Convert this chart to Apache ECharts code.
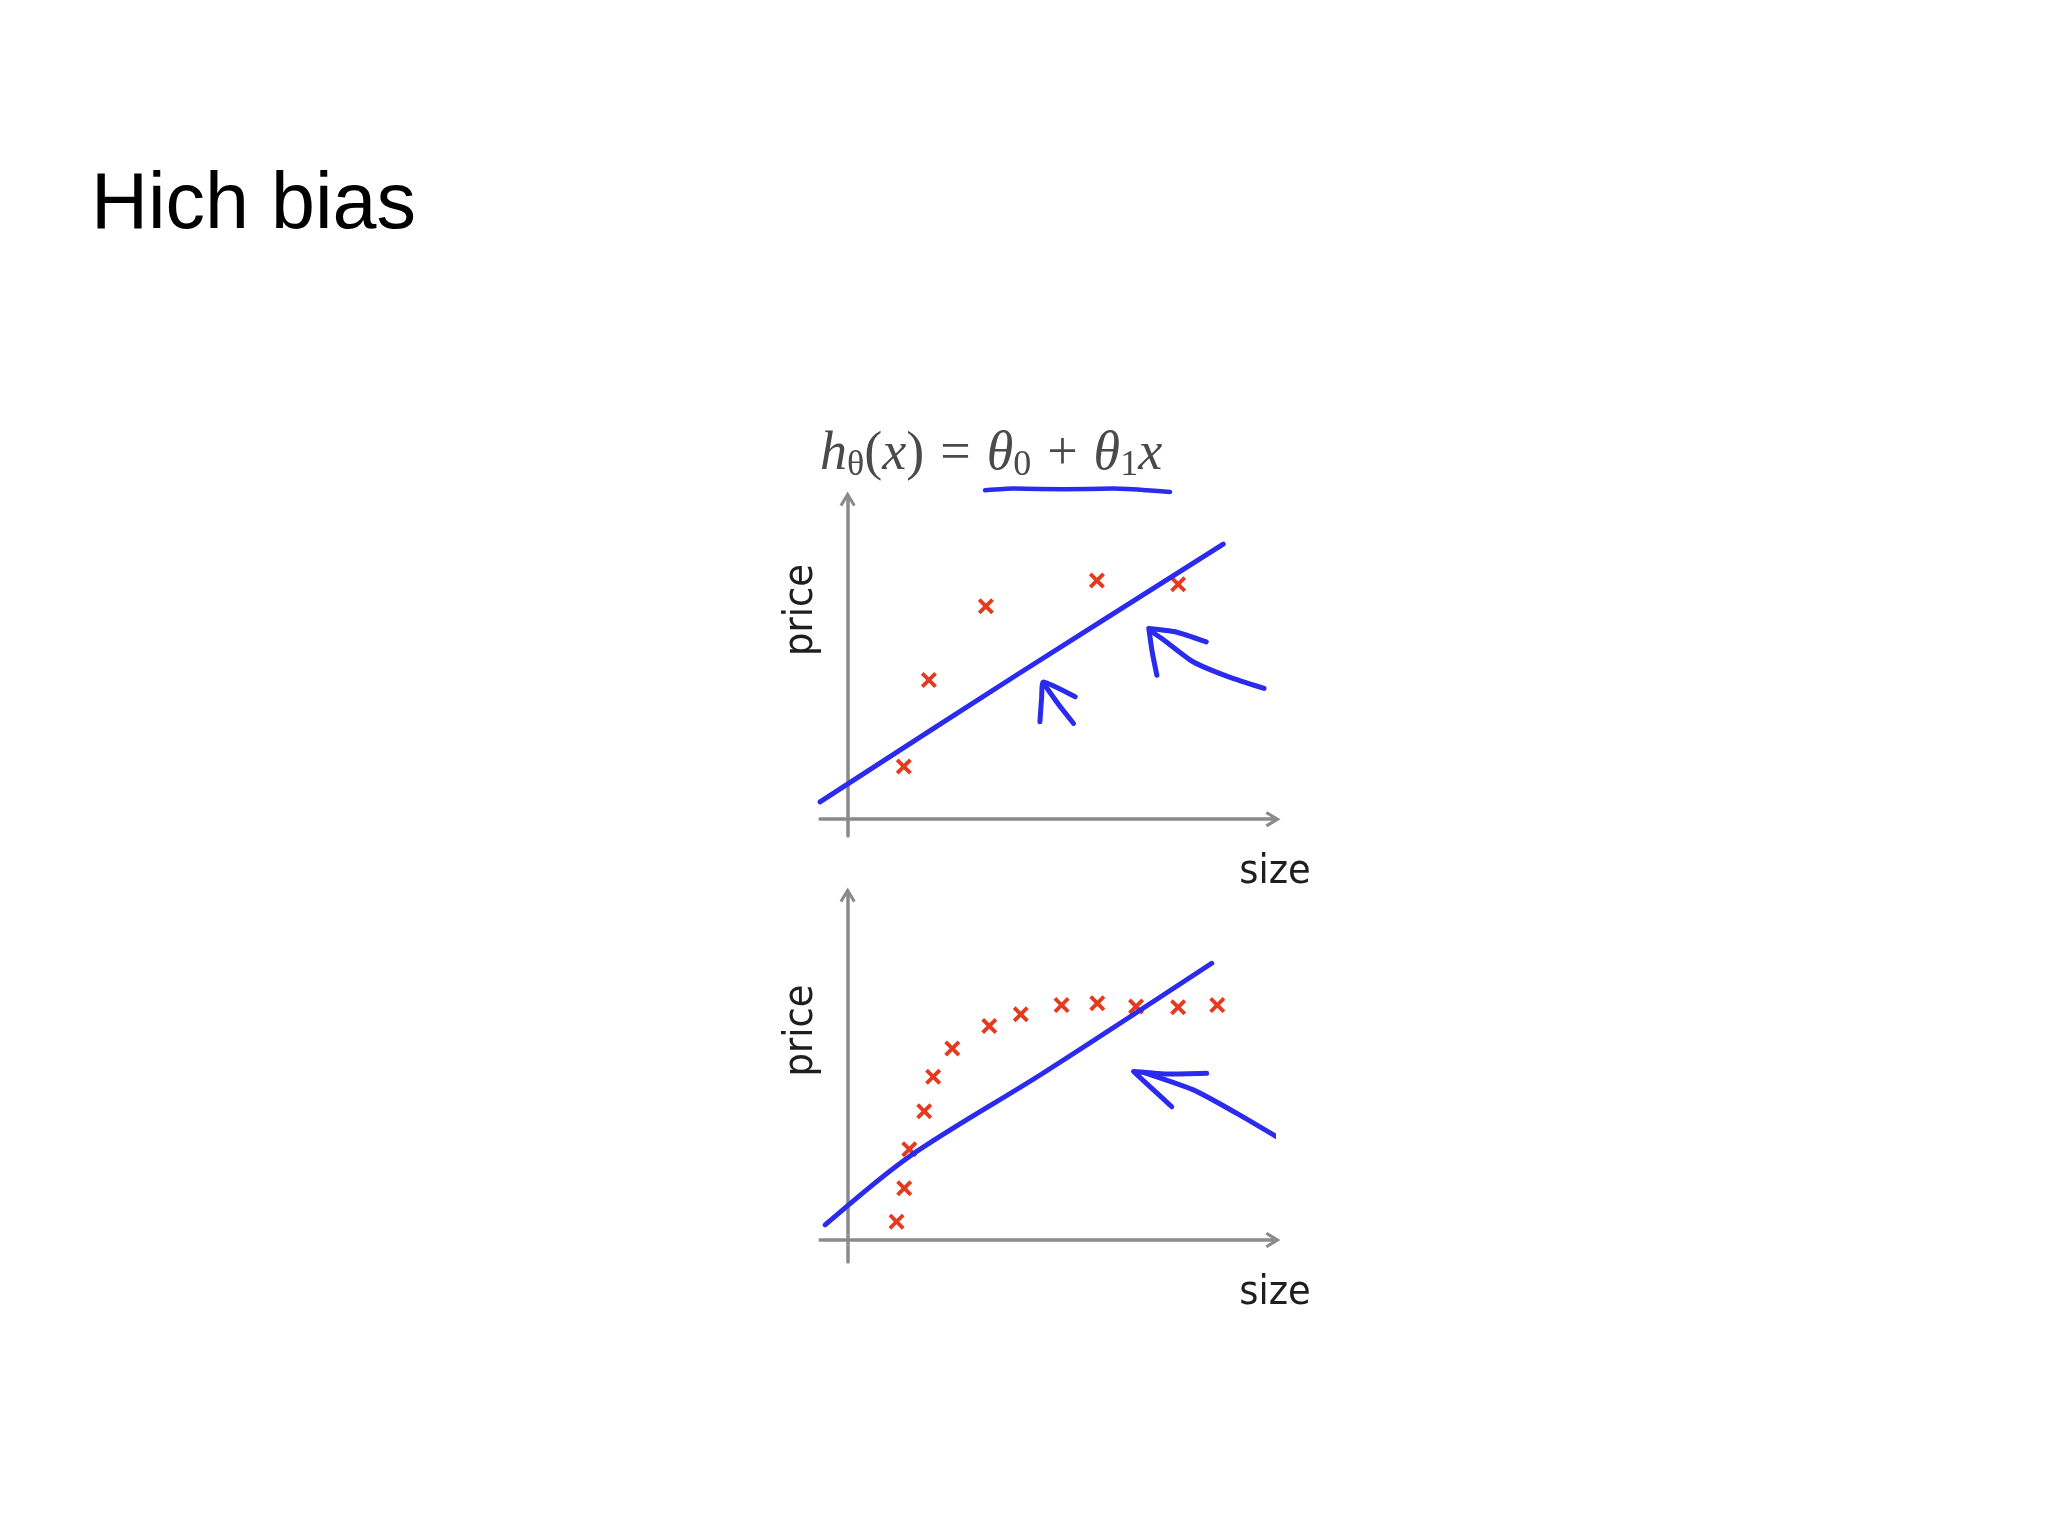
<!DOCTYPE html>
<html>
<head>
<meta charset="utf-8">
<script src="https://cdn.jsdelivr.net/npm/echarts@6/dist/echarts.min.js"></script>
<style>
html,body{margin:0;padding:0;background:#fff;}
#chart{width:2048px;height:1536px;}
</style>
</head>
<body>
<div id="chart"></div>
<script>
// ---------- data ----------
const pageTitle = 'Hich bias';
const xName = 'size';
const yName = 'price';

// top panel: training points and straight-line fit h(x) = θ0 + θ1 x
const topPoints = [[13.2,15.6],[19.1,41.3],[32.5,63.2],[58.6,70.8],[77.7,69.7]];
const topFit = [[-6.49,5.1],[40.0,43.0],[88.3,81.6]];
const topUnderline = [[32.3,97.6],[39.0,98.1],[50.7,97.9],[62.5,98.1],[70.3,97.6],[75.8,97.1]];
const topSmallArrowHead = [[45.2,28.9],[45.6,36.0],[46.0,40.7],[53.5,36.3]];
const topSmallArrowShaft = [[46.5,39.5],[49.6,34.0],[53.1,28.4]];
const topBigArrowHead = [[72.7,42.7],[71.6,49.6],[70.8,56.6],[77.0,55.6],[84.3,52.6]];
const topBigArrowShaft = [[71.5,55.6],[74.4,53.1],[81.2,46.7],[89.6,42.2],[97.9,38.8]];

// bottom panel
const bottomPoints = [[11.5,5.0],[13.3,14.1],[14.5,24.7],[18.0,35.1],[20.1,44.5],[24.6,52.2],[33.3,58.3],[40.7,61.5],[50.3,64.0],[58.7,64.5],[67.8,63.6],[77.7,63.4],[86.9,64.0]];
const bottomFit = [[-5.3,4.1],[14.7,22.9],[46.0,45.5],[85.6,75.4]];
const bottomArrowHead = [[76.2,36.3],[71.9,40.9],[67.2,45.9],[75.8,45.2],[84.4,45.4]];
const bottomArrowShaft = [[69.5,45.7],[81.3,40.9],[91.5,34.5],[100.9,28.1]];

// ---------- styles ----------
const BLUE = '#2b2bee';
const RED = '#e53a1e';
const AXIS_GRAY = '#8a8a8a';
const CHEVRON = 'path://M0,8.3 L5,0 L10,8.3 L8.4,9.4 L5,3.8 L1.6,9.4 Z';
const CROSS = 'path://M0,1.7 L1.7,0 L5,3.3 L8.3,0 L10,1.7 L6.7,5 L10,8.3 L8.3,10 L5,6.7 L1.7,10 L0,8.3 L3.3,5 Z';
const LABEL_FONT = '"Liberation Sans Narrow","DejaVu Sans Condensed","Liberation Sans",sans-serif';
const SERIF = '"Liberation Serif","DejaVu Serif",serif';

function xAxisFor(gi){
  return {
    type:'value', gridIndex:gi, min:-6.5, max:100,
    axisLine:{onZero:true, symbol:['none',CHEVRON], symbolSize:[20,15], lineStyle:{color:AXIS_GRAY,width:3.5}},
    axisTick:{show:false}, axisLabel:{show:false}, splitLine:{show:false},
    name:xName, nameLocation:'end', nameGap:2,
    nameTextStyle:{fontFamily:LABEL_FONT, fontSize:41, color:'#1e1e1e', align:'center', verticalAlign:'top', padding:[33,0,0,0]}
  };
}
function yAxisFor(gi, min, max, shift){
  return {
    type:'value', gridIndex:gi, min:min, max:max,
    axisLine:{onZero:true, symbol:['none',CHEVRON], symbolSize:[20,15], lineStyle:{color:AXIS_GRAY,width:3.5}},
    axisTick:{show:false}, axisLabel:{show:false}, splitLine:{show:false},
    name:yName, nameLocation:'middle', nameRotate:90, nameGap:-2,
    nameTextStyle:{fontFamily:LABEL_FONT, fontSize:41, color:'#1e1e1e', padding:[0,0,0,shift]}
  };
}
function stroke(data, xi, width, smooth){
  return {type:'line', xAxisIndex:xi, yAxisIndex:xi, data:data, showSymbol:false, symbol:'none',
    smooth:smooth==null?0.2:smooth, clip:false, z:5, lineStyle:{color:BLUE, width:width||5, cap:'round', join:'round'}};
}
function crosses(data, xi){
  return {type:'scatter', xAxisIndex:xi, yAxisIndex:xi, data:data, symbol:CROSS, symbolSize:16,
    itemStyle:{color:RED, opacity:1}, z:3};
}

const chart = echarts.init(document.getElementById('chart'), null, {renderer:'canvas'});
chart.setOption({
  animation:false,
  backgroundColor:'#ffffff',
  title:[
    {text:pageTitle, left:86, top:162, textStyle:{fontFamily:'"Liberation Sans",Arial,sans-serif', fontSize:79, fontWeight:'normal', color:'#000'}},
    {text:'{i|h}{s|θ}{n|(}{i|x}{n|)}{o|=}{i|θ}{s|0}{o|+}{i|θ}{s|1}{i|x}', left:815, top:420,
     textStyle:{fontWeight:'normal', rich:{
       i:{fontFamily:SERIF, fontStyle:'italic', fontWeight:'normal', fontSize:54, color:'#4a4a4a', lineHeight:60, verticalAlign:'middle'},
       n:{fontFamily:SERIF, fontWeight:'normal', fontSize:54, color:'#4a4a4a', lineHeight:60, verticalAlign:'middle'},
       o:{fontFamily:SERIF, fontWeight:'normal', fontSize:54, color:'#4a4a4a', lineHeight:60, verticalAlign:'middle', padding:[0,16,0,16]},
       s:{fontFamily:SERIF, fontWeight:'normal', fontSize:36, color:'#4a4a4a', lineHeight:38, padding:[22,0,0,0], verticalAlign:'middle'}
     }}}
  ],
  grid:[
    {left:820, top:499, width:453, height:337},
    {left:820, top:895, width:453, height:367}
  ],
  xAxis:[xAxisFor(0), xAxisFor(1)],
  yAxis:[yAxisFor(0,-5,95,115), yAxisFor(1,-6,94,96)],
  series:[
    crosses(topPoints,0),
    stroke(topFit,0,5,0.3),
    stroke(topUnderline,0,4.5),
    stroke(topSmallArrowHead,0),
    stroke(topSmallArrowShaft,0),
    stroke(topBigArrowHead,0),
    stroke(topBigArrowShaft,0),
    crosses(bottomPoints,1),
    stroke(bottomFit,1,5,0.3),
    stroke(bottomArrowHead,1),
    stroke(bottomArrowShaft,1)
  ]
});
</script>
</body>
</html>
